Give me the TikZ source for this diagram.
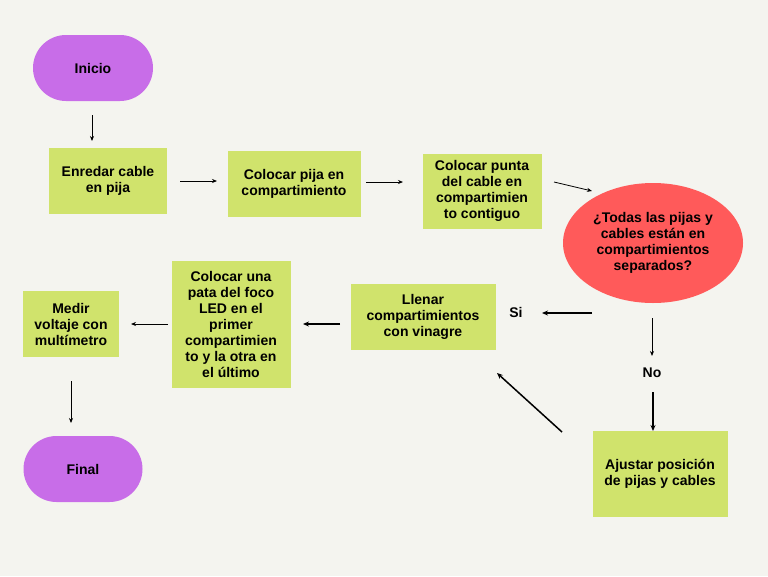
\documentclass[tikz,border=0pt]{standalone}
\usepackage{fontspec}
\setmainfont{Liberation Sans}
\usetikzlibrary{shapes.geometric,arrows.meta}
\definecolor{bg}{HTML}{F4F4EF}
\definecolor{gr}{HTML}{D0E36C}
\definecolor{pu}{HTML}{C86DE8}
\definecolor{rd}{HTML}{FF5A5A}
\begin{document}
\begin{tikzpicture}[x=1pt,y=-1pt,
  every node/.style={font=\fontsize{14}{16}\selectfont\bfseries, align=center, inner sep=0pt},
  box/.style={fill=gr, minimum width=#1},
  term/.style={fill=pu, rounded corners=33pt, minimum width=120pt, minimum height=66pt},
  ar/.style={-{Stealth[length=5pt,width=4pt]}, line width=0.8pt},
  arb/.style={-{Stealth[length=6pt,width=5pt]}, line width=1.5pt}]
\fill[bg] (0,0) rectangle (768,576);
\useasboundingbox (0,0) rectangle (768,576);
\node[term] (ini) at (93,68) {Inicio};
\node[box=118pt, minimum height=66pt] (enr) at (108,181) {Enredar cable\\en pija};
\node[box=133pt, minimum height=66pt] (col) at (294,184) {Colocar pija en\\compartimiento};
\node[box=119pt, minimum height=75pt] (pun) at (482,191) {Colocar punta\\del cable en\\compartimien\\to contiguo};
\node[ellipse, fill=rd, minimum width=180pt, minimum height=120pt] (dec) at (653,243) {¿Todas las pijas y\\cables están en\\compartimientos\\separados?};
\node[box=145pt, minimum height=66pt] (lle) at (423,317) {Llenar\\compartimientos\\con vinagre};
\node[box=119pt, minimum height=127pt] (pat) at (231,324) {Colocar una\\pata del foco\\LED en el\\primer\\compartimien\\to y la otra en\\el último};
\node[box=96pt, minimum height=66pt] (med) at (71,324) {Medir\\voltaje con\\multímetro};
\node[term, minimum width=119pt] (fin) at (83,469) {Final};
\node[box=135pt, minimum height=86pt] (aju) at (660,474) {Ajustar posición\\de pijas y cables};
\node (si) at (516,312) {Si};
\node (no) at (652,373) {No};
\coordinate (a1) at (92,115); \coordinate (a2) at (92,141);
\coordinate (b1) at (180,181); \coordinate (b2) at (217,181);
\coordinate (c1) at (366,182); \coordinate (c2) at (403,182);
\coordinate (d1) at (554,182); \coordinate (d2) at (592,191);
\coordinate (e1) at (592,313); \coordinate (e2) at (542,313);
\coordinate (f1) at (340,324); \coordinate (f2) at (303,324);
\coordinate (g1) at (168,324); \coordinate (g2) at (131,324);
\coordinate (h1) at (71,381); \coordinate (h2) at (71,423);
\coordinate (i1) at (652,318); \coordinate (i2) at (652,356);
\coordinate (j1) at (653,392); \coordinate (j2) at (653,431);
\coordinate (k1) at (562,432); \coordinate (k2) at (497,373);
\draw[ar] (a1) -- (a2);
\draw[ar] (b1) -- (b2);
\draw[ar] (c1) -- (c2);
\draw[ar] (d1) -- (d2);
\draw[arb] (e1) -- (e2);
\draw[arb] (f1) -- (f2);
\draw[ar] (g1) -- (g2);
\draw[ar] (h1) -- (h2);
\draw[ar] (i1) -- (i2);
\draw[arb] (j1) -- (j2);
\draw[arb] (k1) -- (k2);
\end{tikzpicture}
\end{document}
